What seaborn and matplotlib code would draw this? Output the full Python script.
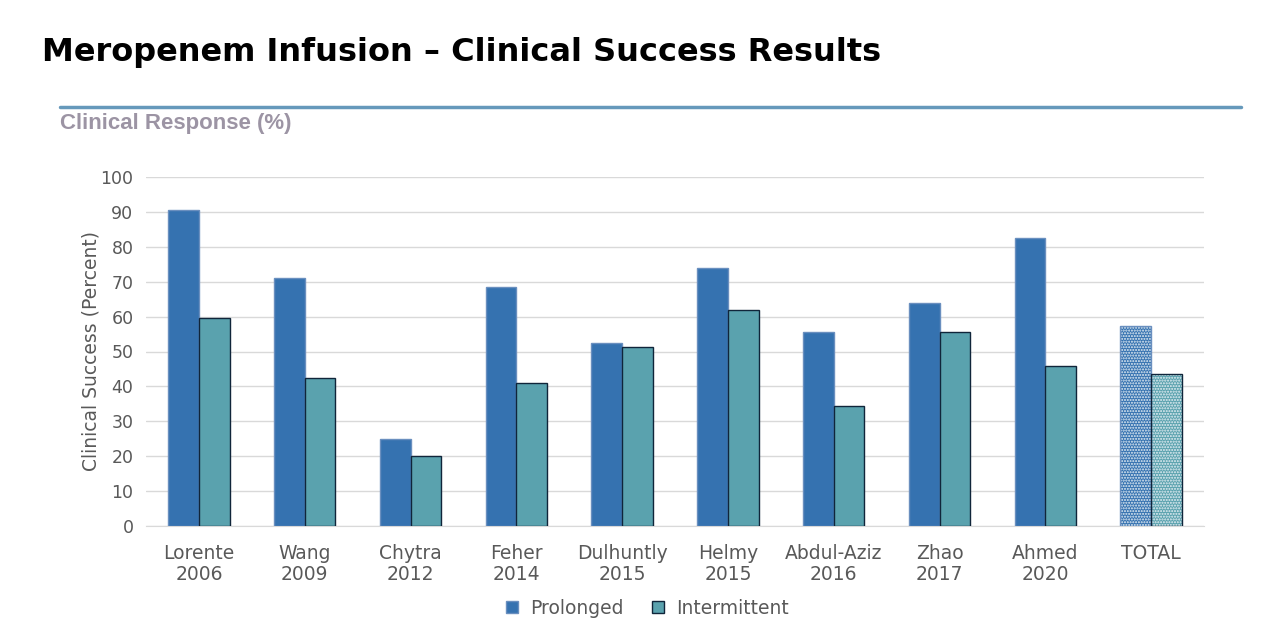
import pandas as pd
import matplotlib.pyplot as plt
import seaborn as sns
from matplotlib.patches import Rectangle
from matplotlib.lines import Line2D

studies = ['Lorente\n2006', 'Wang\n2009', 'Chytra\n2012', 'Feher\n2014', 'Dulhuntly\n2015',
           'Helmy\n2015', 'Abdul-Aziz\n2016', 'Zhao\n2017', 'Ahmed\n2020', 'TOTAL']
prolonged = [90.5, 71.1, 24.9, 68.5, 52.4, 73.9, 55.6, 63.9, 82.5, 57.3]
intermittent = [59.6, 42.4, 20.1, 41.0, 51.3, 61.9, 34.4, 55.6, 45.8, 43.6]

df = pd.DataFrame({'study': studies * 2,
                   'value': prolonged + intermittent,
                   'group': ['Prolonged'] * len(studies) + ['Intermittent'] * len(studies)})

sns.set_style('white')
plt.rcParams['font.family'] = ['DejaVu Sans']

fig = plt.figure(figsize=(12.8, 6.38), dpi=100)
ax = fig.add_axes([146/1280, 1-526/638, (1204-146)/1280, (526-177)/638])

colors = {'Prolonged': '#3572b0', 'Intermittent': '#5aa2ae'}
sns.barplot(data=df, x='study', y='value', hue='group', palette=colors, width=0.58,
            saturation=1, ax=ax, legend=False, zorder=3)

n = len(studies)
for i, p in enumerate(ax.patches[:2 * n]):
    if i < n:
        p.set_edgecolor('#6a8fbf')
    else:
        p.set_edgecolor('#10253a')
    p.set_linewidth(1.0)
    # TOTAL bars get a dotted fill
    if i % n == n - 1:
        p.set_hatch('......')
        p.set_edgecolor('#e8f0f5')
        p.set_linewidth(0)
        ax.add_patch(Rectangle((p.get_x(), p.get_y()), p.get_width(), p.get_height(),
                               fill=False, edgecolor='#10253a' if i >= n else '#6a8fbf',
                               linewidth=1.0, zorder=4))

ax.set_ylim(0, 100)
ax.set_xlim(-0.5, n - 0.5)
ax.set_yticks(range(0, 101, 10))
ax.yaxis.grid(True, color='#d9d9d9', linewidth=1, zorder=0)
ax.tick_params(axis='y', length=0, labelsize=12.5, labelcolor='#595959', pad=9)
ax.tick_params(axis='x', length=0, labelsize=13.5, labelcolor='#595959', pad=13)
for t in ax.get_xticklabels():
    t.set_linespacing(1.15)
for s in ['top', 'right', 'left']:
    ax.spines[s].set_visible(False)
ax.spines['bottom'].set_color('#d9d9d9')
ax.set_xlabel('')
ax.set_ylabel('Clinical Success (Percent)', fontsize=13.5, color='#595959', labelpad=0)

handles = [Line2D([], [], marker='s', linestyle='none', markersize=9,
                  markerfacecolor=colors['Prolonged'], markeredgecolor='#6a8fbf'),
           Line2D([], [], marker='s', linestyle='none', markersize=9,
                  markerfacecolor=colors['Intermittent'], markeredgecolor='#10253a')]
fig.legend(handles, ['Prolonged', 'Intermittent'], loc='center', bbox_to_anchor=(641/1280, 1-608/638),
           ncol=2, frameon=False, fontsize=13.5, handletextpad=0.0, columnspacing=0.8,
           labelcolor='#595959')

fig.text(42/1280, 1-52/638, 'Meropenem Infusion \u2013 Clinical Success Results',
         fontsize=23, fontweight='bold', va='center', ha='left', color='black')
fig.add_artist(Line2D([60/1280, 1241/1280], [1-107/638, 1-107/638], color='#6699bb', linewidth=2.5))
fig.text(60/1280, 1-123/638, 'Clinical Response (%)', fontsize=16, fontweight='bold',
         va='center', ha='left', color='#9c94a4',
         family=['Liberation Sans Narrow', 'Liberation Sans', 'DejaVu Sans'])

plt.savefig('out.png', dpi=100)
